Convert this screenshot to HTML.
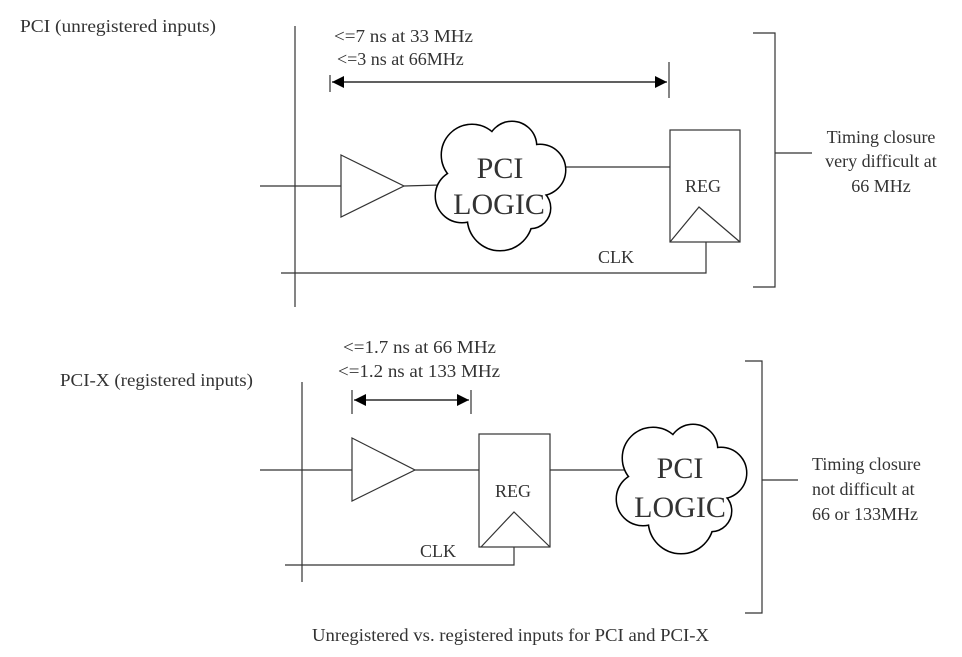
<!DOCTYPE html>
<html><head><meta charset="utf-8"><style>
html,body{margin:0;padding:0;background:#fff;}
svg{display:block;}
text{font-family:"Liberation Serif",serif;fill:#333;}
</style></head><body>
<svg width="962" height="657" viewBox="0 0 962 657" xmlns="http://www.w3.org/2000/svg">
<defs>
<marker id="ah" viewBox="0 0 10 10" refX="10" refY="5" markerWidth="12" markerHeight="12" markerUnits="userSpaceOnUse" orient="auto-start-reverse"><path d="M0,0 L10,5 L0,10 z" fill="#000"/></marker>
</defs>
<g stroke="#333" stroke-width="1.2" fill="none">
<!-- TOP -->
<line x1="295" y1="26" x2="295" y2="307"/>
<line x1="260" y1="186" x2="341" y2="186"/>
<polygon points="341,155 404,186 341,217" fill="#fff"/>
<line x1="404" y1="186" x2="440" y2="185"/>
<line x1="560" y1="167" x2="670" y2="167"/>
<rect x="670" y="130" width="70" height="112" fill="#fff"/>
<polyline points="670,242 699,207 740,242"/>
<polyline points="706,242 706,273 281,273"/>
<line x1="330" y1="75" x2="330" y2="92"/>
<line x1="669" y1="62" x2="669" y2="98"/>
<line x1="332" y1="82" x2="667" y2="82" stroke="#000" marker-start="url(#ah)" marker-end="url(#ah)"/>
<polyline points="753,33 775,33 775,287 753,287"/>
<line x1="775" y1="153" x2="812" y2="153"/>
<!-- BOTTOM -->
<line x1="302" y1="382" x2="302" y2="582"/>
<line x1="260" y1="470" x2="352" y2="470"/>
<polygon points="352,438 415,470 352,501" fill="#fff"/>
<line x1="415" y1="470" x2="479" y2="470"/>
<rect x="479" y="434" width="71" height="113" fill="#fff"/>
<polyline points="481,547 514,512 550,547"/>
<polyline points="514,547 514,565 285,565"/>
<line x1="550" y1="470" x2="625" y2="470"/>
<line x1="352" y1="390" x2="352" y2="414"/>
<line x1="471" y1="390" x2="471" y2="414"/>
<line x1="354" y1="400" x2="469" y2="400" stroke="#000" marker-start="url(#ah)" marker-end="url(#ah)"/>
<polyline points="745,361 762,361 762,613 745,613"/>
<line x1="762" y1="480" x2="798" y2="480"/>
</g>
<!-- clouds -->
<g>
<g stroke="#000" stroke-width="3" fill="#fff">
<circle cx="472" cy="155" r="30"/><circle cx="512" cy="146" r="24"/><circle cx="540" cy="170" r="25"/>
<circle cx="530" cy="208" r="20"/><circle cx="500" cy="218" r="32"/><circle cx="462" cy="196" r="26"/>
</g>
<g fill="#fff">
<circle cx="472" cy="155" r="30"/><circle cx="512" cy="146" r="24"/><circle cx="540" cy="170" r="25"/>
<circle cx="530" cy="208" r="20"/><circle cx="500" cy="218" r="32"/><circle cx="462" cy="196" r="26"/>
<circle cx="500" cy="185" r="35"/>
</g>
</g>
<g transform="translate(181,303)">
<g stroke="#000" stroke-width="3" fill="#fff">
<circle cx="472" cy="155" r="30"/><circle cx="512" cy="146" r="24"/><circle cx="540" cy="170" r="25"/>
<circle cx="530" cy="208" r="20"/><circle cx="500" cy="218" r="32"/><circle cx="462" cy="196" r="26"/>
</g>
<g fill="#fff">
<circle cx="472" cy="155" r="30"/><circle cx="512" cy="146" r="24"/><circle cx="540" cy="170" r="25"/>
<circle cx="530" cy="208" r="20"/><circle cx="500" cy="218" r="32"/><circle cx="462" cy="196" r="26"/>
<circle cx="500" cy="185" r="35"/>
</g>
</g>
<!-- text -->
<g font-size="18">
<text x="20" y="32" textLength="196" lengthAdjust="spacingAndGlyphs">PCI (unregistered inputs)</text>
<text x="334" y="42" textLength="139" lengthAdjust="spacingAndGlyphs">&lt;=7 ns at 33 MHz</text>
<text x="337" y="65">&lt;=3 ns at 66MHz</text>
<text x="685" y="192">REG</text>
<text x="598" y="263">CLK</text>
<text x="881" y="143" text-anchor="middle">Timing closure</text>
<text x="881" y="167" text-anchor="middle">very difficult at</text>
<text x="881" y="192" text-anchor="middle">66 MHz</text>
<text x="60" y="386" textLength="193" lengthAdjust="spacingAndGlyphs">PCI-X (registered inputs)</text>
<text x="343" y="353" textLength="153" lengthAdjust="spacingAndGlyphs">&lt;=1.7 ns at 66 MHz</text>
<text x="338" y="377" textLength="162" lengthAdjust="spacingAndGlyphs">&lt;=1.2 ns at 133 MHz</text>
<text x="495" y="497">REG</text>
<text x="420" y="557">CLK</text>
<text x="812" y="470">Timing closure</text>
<text x="812" y="495">not difficult at</text>
<text x="812" y="520">66 or 133MHz</text>
<text x="312" y="641" textLength="397" lengthAdjust="spacingAndGlyphs">Unregistered vs. registered inputs for PCI and PCI-X</text>
</g>
<g font-size="30">
<text x="500" y="178" text-anchor="middle">PCI</text>
<text x="499" y="214" text-anchor="middle">LOGIC</text>
<text x="680" y="478" text-anchor="middle">PCI</text>
<text x="680" y="517" text-anchor="middle">LOGIC</text>
</g>
</svg>
</body></html>
